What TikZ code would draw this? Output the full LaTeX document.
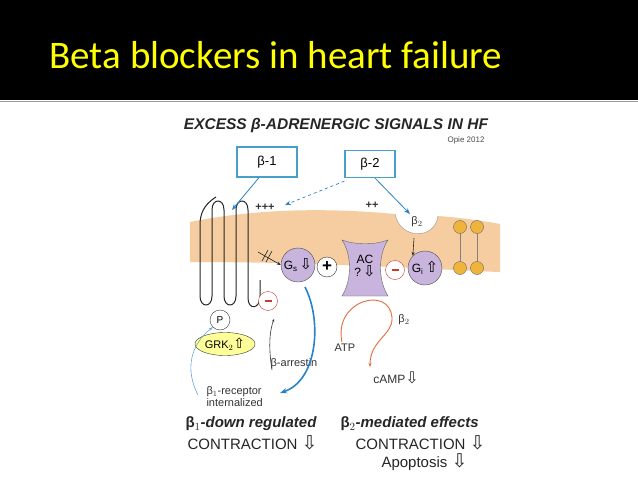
\documentclass[tikz,border=0pt]{standalone}
\usepackage{fontspec}
\setmainfont{Liberation Sans}
\newfontfamily\titlefont{Carlito}
\newfontfamily\symfont{DejaVu Sans}
\usetikzlibrary{arrows.meta,shapes.geometric}
\definecolor{beige}{RGB}{246,205,160}
\definecolor{lilac}{RGB}{200,180,220}
\definecolor{boxblue}{RGB}{70,160,200}
\definecolor{arrblue}{RGB}{40,130,200}
\definecolor{redm}{RGB}{200,60,50}
\definecolor{orng}{RGB}{225,110,60}
\definecolor{ball}{RGB}{240,180,60}
\definecolor{yel}{RGB}{255,255,0}
\newcommand{\dn}{{\symfont\char"21E9}}
\newcommand{\up}{{\symfont\char"21E7}}
\newcommand{\bdn}{{\symfont\fontsize{19}{19}\selectfont\char"21E9}}
\tikzset{
 bbox/.style={draw=boxblue,line width=1.2pt,minimum width=60pt,minimum height=30pt,font=\fontsize{13}{13}\selectfont},
 gcirc/.style={circle,draw=black!70,fill=lilac,minimum size=34pt,inner sep=0pt,font=\fontsize{12}{12}\selectfont},
 mcirc/.style={circle,draw=redm,fill=white,minimum size=19pt,inner sep=0pt,text=redm,font=\bfseries\fontsize{14}{14}\selectfont},
 pcirc/.style={circle,draw=black!80,fill=white,minimum size=20pt,inner sep=0pt,font=\bfseries\fontsize{17}{17}\selectfont},
 balln/.style={circle,draw=black!60,fill=ball,minimum size=13pt,inner sep=0pt},
 lab/.style={font=\fontsize{11}{12}\selectfont,text=black!80},
 big/.style={font=\fontsize{15}{16}\selectfont,text=black!85},
 barr/.style={-{Stealth[length=6pt]},arrblue,line width=0.8pt},
}
\begin{document}
\begin{tikzpicture}[x=1pt,y=-1pt]
\useasboundingbox (0,0) rectangle (638,479);
\fill[white] (0,0) rectangle (638,479);
\fill[black] (0,0) rectangle (638,100);
\draw[black!40,line width=1pt] (0,101) -- (638,101);
\node[anchor=west,text=yel,font=\titlefont\fontsize{39}{39}\selectfont] (title) at (46,55) {Beta blockers in heart failure};
\node[font=\bfseries\itshape\fontsize{15.5}{16}\selectfont,text=black!85] (hdr) at (336,125) {EXCESS β-ADRENERGIC SIGNALS IN HF};
\node[font=\fontsize{8}{8}\selectfont,text=black!70,anchor=east] (opie) at (488,140) {Opie 2012};
% membrane
\fill[beige] (190,222) .. controls (260,208) and (330,208) .. (395,214)
  .. controls (400,240) and (435,240) .. (438,216)
  .. controls (465,218) and (490,222) .. (500,224)
  -- (500,272) .. controls (440,270) and (330,262) .. (190,262) -- cycle;
\draw[black!40,line width=0.4pt] (395,214) .. controls (400,240) and (435,240) .. (438,216);
% receptor loops
\draw[black!85,line width=1pt,line join=round]
  (216,197) .. controls (203,205) and (200,215) .. (200,225) -- (200,296)
  .. controls (200,308) and (212,308) .. (212,296) -- (212,210)
  .. controls (212,198) and (224,198) .. (224,210) -- (224,296)
  .. controls (224,308) and (236,308) .. (236,296) -- (236,210)
  .. controls (236,198) and (248,198) .. (248,210) -- (248,298)
  .. controls (248,310) and (260,310) .. (260,296) -- (260,280);
% lipids
\node[balln] (b1) at (460,227) {};
\node[balln] (b2) at (477,227) {};
\node[balln] (b3) at (460,268) {};
\node[balln] (b4) at (477,268) {};
\draw[black!50,line width=0.5pt] (b1) -- (b3) (b2) -- (b4);
% boxes
\node[bbox] (beta1) at (267,162) {β-1};
\node[bbox,minimum width=50pt,minimum height=27pt] (beta2) at (370,164) {β-2};
\coordinate (r1) at (232,210);
\coordinate (d1) at (285,205);
\coordinate (n1) at (410,214);
\draw[barr] (beta1.south) ++(-8,0) -- (r1);
\draw[barr,dashed,line width=0.7pt] (beta2.south west) ++(0,3) -- (d1);
\draw[barr] (beta2.south) ++(5,0) -- (n1);
\node[lab,font=\bfseries\fontsize{11}{11}\selectfont] (ppp) at (265,207) {+++};
\node[lab,font=\bfseries\fontsize{11}{11}\selectfont] (pp) at (372,205) {++};
\node[lab] (b2n) at (417,222) {β$_2$};
% G proteins and AC
\node[gcirc] (gs) at (298,265) {G$_\mathrm{s}$\,{\fontsize{15}{15}\selectfont\dn}};
\node[pcirc] (plus) at (327,267) {+};
\fill[lilac,draw=black!60] (342,240) .. controls (355,245) and (375,245) .. (388,240)
  .. controls (378,255) and (378,280) .. (388,296) -- (342,296)
  .. controls (352,280) and (352,255) .. (342,240) -- cycle;
\node[font=\fontsize{12}{13}\selectfont,align=center] (ac) at (365,266) {AC\\?\,{\fontsize{15}{15}\selectfont\dn}};
\node[mcirc] (minus) at (395,270) {\rule{7pt}{2pt}};
\node[gcirc] (gi) at (425,268) {G$_\mathrm{i}$\,{\fontsize{15}{15}\selectfont\up}};
\coordinate (xs) at (258,252);
\draw[-{Stealth[length=4pt]},black!85,line width=0.6pt] (xs) -- (gs.west);
\draw[black!85,line width=0.6pt] (262,261) -- (268,250) (266,262) -- (272,251);
\coordinate (ni) at (414,238);
\draw[-{Stealth[length=4pt]},black!85,line width=0.6pt] (ni) -- (gi.north west);
% lower left
\node[mcirc] (minus2) at (268,301) {\rule{7pt}{2pt}};
\node[circle,draw=black!80,fill=white,minimum size=20pt,inner sep=0pt,font=\fontsize{10}{10}\selectfont] (P) at (220,320) {P};
\node[ellipse,draw=black!80,fill=yel!40,minimum width=60pt,minimum height=23pt,inner sep=0pt,font=\fontsize{11}{11}\selectfont] (grk) at (225,344) {GRK$_2${\fontsize{14}{14}\selectfont\up}};
\coordinate (arr0) at (272,370);
\coordinate (arr1) at (274,319);
\draw[-{Stealth[length=3pt]},black!80,line width=0.6pt] (arr0) .. controls (268,345) and (270,330) .. (arr1);
\node[lab] (barrest) at (294,364) {β-arrestin};
\coordinate (bl0) at (305,287);
\coordinate (bl1) at (280,393);
\draw[-{Stealth[length=7pt]},arrblue,line width=1.6pt] (bl0) .. controls (322,320) and (318,380) .. (bl1);
\coordinate (tb0) at (198,395);
\draw[-{Stealth[length=4pt]},arrblue!70,line width=0.6pt] (tb0) .. controls (185,370) and (190,345) .. (P.south west);
\node[lab,align=left,anchor=west] (rec) at (203,397) {β$_1$-receptor\\internalized};
% orange arc
\coordinate (o0) at (342,342);
\coordinate (o1) at (370,367);
\draw[-{Stealth[length=4pt]},orng,line width=0.9pt] (o0) .. controls (333,300) and (390,285) .. (392,318) .. controls (393,335) and (370,340) .. (o1);
\node[lab] (b2o) at (404,320) {β$_2$};
\node[lab] (atp) at (345,348) {ATP};
\node[lab,font=\fontsize{12}{12}\selectfont] (camp) at (396,378) {cAMP{\fontsize{16}{16}\selectfont\dn}};
% bottom text
\node[big,anchor=west] (t1) at (182,424) {\bfseries β$_1$\textit{-down regulated}};
\node[big,anchor=west] (t2) at (184,443) {CONTRACTION \bdn};
\node[big,anchor=west] (t3) at (337,424) {\bfseries β$_2$\textit{-mediated effects}};
\node[big,anchor=west] (t4) at (352,443) {CONTRACTION \bdn};
\node[big,anchor=west] (t5) at (378,462) {Apoptosis \bdn};
\end{tikzpicture}
\end{document}
